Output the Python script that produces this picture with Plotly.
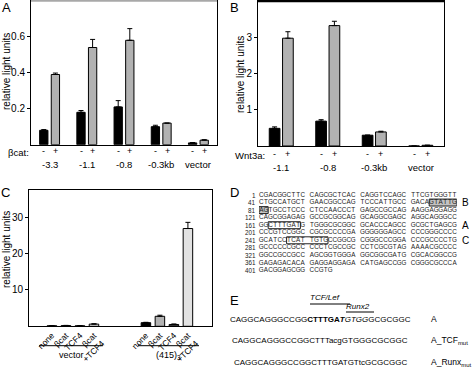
import plotly.graph_objects as go

W, H = 474, 379
def fx(p): return p / W
def fy(p): return 1 - p / H

SANS = "Liberation Sans, Arial, sans-serif"
BLACK = "#000000"
GRAY = "#b2b2b2"
DARK = "#3a3a3a"
LIGHT = "#e2e2e2"

# ---------------- Panel A data ----------------
a_groups = ["-3.3", "-1.1", "-0.8", "-0.3kb", "vector"]
a_minus = [0.08, 0.18, 0.21, 0.10, 0.01]
a_minus_err = [0.004, 0.01, 0.035, 0.008, 0.002]
a_plus = [0.39, 0.54, 0.58, 0.12, 0.025]
a_plus_err = [0.008, 0.045, 0.065, 0.0, 0.003]
a_yticks = [0.2, 0.4, 0.6]

# ---------------- Panel B data ----------------
b_groups = ["-1.1", "-0.8", "-0.3kb", "vector"]
b_minus = [0.49, 0.69, 0.30, 0.0]
b_minus_err = [0.04, 0.04, 0.0, 0.0]
b_plus = [2.99, 3.34, 0.39, 0.02]
b_plus_err = [0.18, 0.12, 0.02, 0.0]
b_yticks = [1, 2, 3]

# ---------------- Panel C data ----------------
c_treat = ["none", "βcat", "TCF4", "βcat+TCF4"]
c_ticktext = ["none", "βcat", "TCF4", "βcat<br>+TCF4"]
c_groups = ["vector", "(415)<sub>3</sub>"]
c_vector = [0.15, 0.2, 0.15, 0.6]
c_vector_err = [0.04, 0.05, 0.04, 0.1]
c_415 = [1.0, 2.75, 0.5, 26.9]
c_415_err = [0.1, 0.3, 0.15, 1.7]
c_yticks = [10, 20, 30]
c_colors = [BLACK, GRAY, DARK, LIGHT]

# ---------------- Panel D data ----------------
d_starts = [1, 41, 81, 121, 161, 201, 241, 281, 321, 361, 401]
d_seqs = [
    "CGACGGCTTC CAGCGCTCAC CAGGTCCAGC TTCGTGGGTT",
    "CTGCCATGCT GAACGGCCAG TCCCATTGCC GACAGTATTG",
    "AGTGCCTCCC CTCCAACCCT GAGCCGCCAG AAGGAGGAGG",
    "CAGCGGAGAG GCCGCGGCAG GCAGGCGAGC AGGCAGGGCC",
    "GGCTTTGATG TGGGCGCGGC GCACCCAGCC GCGCTGAGCG",
    "CCCGTCCGGC CGCGCCCCGA GGGGGGAGCC CCCGGGCCCC",
    "GCATCCTCAT TGTGCCGGCG CGGGCCCGGA CCCGCCCCTG",
    "GCCCCCCGCC CCCTCGCCGC CCTCGCGTAG AAAACGCCCC",
    "GGCCGCCGCC AGCGGTGGGA GGCGGCGATG CGCACGGCCG",
    "GAGAGACACA GAGGAGGAGA CATGAGCCGG CGGGCGCCCA",
    "GACGGAGCGG CCGTG",
]
# boxed sites: (line index, first char, last char, shaded)
d_boxes = [(1, 37, 42, True), (2, 0, 1, True), (4, 2, 8, False), (6, 6, 14, False)]
d_site_labels = [(1, "B"), (4, "A"), (6, "C")]

# ---------------- Panel E data ----------------
e_seqs = [
    "CAGGCAGGGCCGG<b>CTTTGA</b><b><i>T</i></b><i>GTGG</i>GCGCGGC",
    "CAGGCAGGGCCGGCTTTacgGTGGGCGCGGC",
    "CAGGCAGGGCCGGCTTTGATGTtcGCGCGGC",
]
e_names = ["A", "A_TCF<sub>mut</sub>", "A_Runx<sub>mut</sub>"]

fig = go.Figure()

def err(vals):
    return dict(type="data", symmetric=False, array=vals, arrayminus=[0] * len(vals),
                color=BLACK, thickness=1, width=2.5)

def bar_pair(groups, minus, minus_err, plus, plus_err, xa, ya, cat_px, bar_px, sep_px):
    w = bar_px / cat_px
    c = sep_px / 2 / cat_px
    fig.add_trace(go.Bar(x=groups, y=minus, error_y=err(minus_err), width=w, offset=-c - w / 2,
                         marker=dict(color=BLACK, line=dict(color=BLACK, width=1)),
                         xaxis=xa, yaxis=ya, showlegend=False))
    fig.add_trace(go.Bar(x=groups, y=plus, error_y=err(plus_err), width=w, offset=c - w / 2,
                         marker=dict(color=GRAY, line=dict(color=BLACK, width=1)),
                         xaxis=xa, yaxis=ya, showlegend=False))

A_X = (31, 217)
B_X = (258, 444)
A_SEP, B_SEP = 11.6, 13.3
bar_pair(a_groups, a_minus, a_minus_err, a_plus, a_plus_err, "x", "y",
         (A_X[1] - A_X[0]) / len(a_groups), 8.3, A_SEP)
bar_pair(b_groups, b_minus, b_minus_err, b_plus, b_plus_err, "x2", "y2",
         (B_X[1] - B_X[0]) / len(b_groups), 10.7, B_SEP)

# Panel C bars (numeric positions computed from indices)
c_base = [0.0, 6.71]
c_tickvals, c_ticklab = [], []
for gi, base in enumerate(c_base):
    for ti in range(len(c_treat)):
        c_tickvals.append(base + ti)
        c_ticklab.append(c_ticktext[ti])
for ti, name in enumerate(c_treat):
    xs = [c_base[0] + ti, c_base[1] + ti]
    ys = [c_vector[ti], c_415[ti]]
    es = [c_vector_err[ti], c_415_err[ti]]
    fig.add_trace(go.Bar(x=xs, y=ys, width=0.68, error_y=err(es), name=name,
                         marker=dict(color=c_colors[ti], line=dict(color=BLACK, width=1)),
                         xaxis="x3", yaxis="y3", showlegend=False))

# Panel D: each character placed on a fixed character grid (monospace layout)
d_x, d_y, d_t = [], [], []
for li, s in enumerate(d_seqs):
    for ci, ch in enumerate(s):
        if ch != " ":
            d_x.append(ci)
            d_y.append(li)
            d_t.append(ch)
fig.add_trace(go.Scatter(x=d_x, y=d_y, text=d_t, mode="text", textposition="middle center",
                         textfont=dict(family=SANS, size=6.3, color="#1a1a1a"), cliponaxis=False,
                         xaxis="x4", yaxis="y4", showlegend=False, hoverinfo="skip"))

axis_common = dict(showline=True, linecolor=BLACK, linewidth=1, mirror=True, showgrid=False, zeroline=False)
ytick_common = dict(ticks="outside", ticklen=3, tickcolor=BLACK, tickfont=dict(family=SANS, size=10, color=BLACK))

D_CW = 4.6
D_X0 = 259.0
D_Y0, D_DY = 195.0, 7.55
n_lines = len(d_seqs)

fig.update_layout(
    width=W, height=H, autosize=False,
    margin=dict(l=0, r=0, t=0, b=0),
    paper_bgcolor="white", plot_bgcolor="white",
    barmode="overlay", hovermode=False, dragmode=False,
    font=dict(family=SANS, color=BLACK),
    xaxis=dict(domain=[fx(A_X[0]), fx(A_X[1])], anchor="y", type="category", range=[-0.5, len(a_groups) - 0.5],
               showticklabels=False, ticks="", **axis_common),
    yaxis=dict(domain=[fy(144.7), 1], anchor="x", range=[0, 0.804], tickvals=a_yticks, **ytick_common, **axis_common),
    xaxis2=dict(domain=[fx(B_X[0]), fx(B_X[1])], anchor="y2", type="category", range=[-0.5, len(b_groups) - 0.5],
                showticklabels=False, ticks="", **axis_common),
    yaxis2=dict(domain=[fy(146), 1], anchor="x2", range=[0, 4.05], tickvals=b_yticks, **ytick_common, **axis_common),
    xaxis3=dict(domain=[fx(29), fx(212)], anchor="y3", range=[-1.64, 11.43], tickvals=c_tickvals, ticktext=c_ticklab,
                tickangle=-45, ticks="", tickfont=dict(family=SANS, size=8.5, color=BLACK), **axis_common),
    yaxis3=dict(domain=[fy(326.3), fy(190)], anchor="x3", range=[0, 37.5], tickvals=c_yticks, **ytick_common, **axis_common),
    xaxis4=dict(domain=[fx(D_X0), fx(D_X0 + 43 * D_CW)], anchor="y4", range=[-0.5, 42.5], visible=False),
    yaxis4=dict(domain=[fy(D_Y0 + (n_lines - 0.5) * D_DY), fy(D_Y0 - 0.5 * D_DY)], anchor="x4",
                range=[n_lines - 0.5, -0.5], visible=False),
)

ann = []
shapes = []

def text(x, y, t, size=10, xanchor="center", yanchor="middle", angle=0, color=BLACK, xref="paper", yref="paper", xshift=0):
    ann.append(dict(x=x, y=y, xref=xref, yref=yref, text=t, showarrow=False, xanchor=xanchor, yanchor=yanchor,
                    font=dict(family=SANS, size=size, color=color), textangle=angle, borderpad=0, borderwidth=0,
                    xshift=xshift))

# panel letters
text(fx(6), fy(8), "A", size=13)
text(fx(234), fy(8), "B", size=13)
text(fx(5), fy(192), "C", size=13)
text(fx(234), fy(192), "D", size=13)
text(fx(234), fy(300), "E", size=13)

# y titles
text(fx(6), fy(72), "relative light units", angle=-90)
text(fx(240), fy(75), "relative light units", angle=-90)
text(fx(6), fy(250), "relative light units", angle=-90)

# A category labels (x = category index on the category axis)
text(fx(29), fy(152), "βcat:", size=9.5, xanchor="right")
for i, g in enumerate(a_groups):
    text(i, fy(151.5), "-", size=9, xref="x", xshift=-A_SEP / 2)
    text(i, fy(151.5), "+", size=9, xref="x", xshift=A_SEP / 2)
    text(i, fy(164), g, size=9.5, xref="x")
# B category labels
text(fx(265), fy(155), "Wnt3a:", size=9.5, xanchor="right")
for i, g in enumerate(b_groups):
    text(i, fy(154.5), "-", size=9, xref="x2", xshift=-B_SEP / 2)
    text(i, fy(154.5), "+", size=9, xref="x2", xshift=B_SEP / 2)
    text(i, fy(167), g, size=9.5, xref="x2")
# C group labels and underlines
c_line_px = [(39, 103), (138, 199)]
for gi, (x0, x1) in enumerate(c_line_px):
    shapes.append(dict(type="line", xref="paper", yref="paper", x0=fx(x0), x1=fx(x1), y0=fy(345.7), y1=fy(345.7),
                       line=dict(color=BLACK, width=1)))
    text(fx((x0 + x1) / 2), fy(355), c_groups[gi], size=9)

# top border emphasis
shapes.append(dict(type="line", xref="paper", yref="paper", x0=fx(31), x1=fx(217), y0=fy(0.8), y1=fy(0.8),
                   line=dict(color="#a8a8a8", width=2)))
shapes.append(dict(type="line", xref="paper", yref="paper", x0=fx(258), x1=fx(444), y0=fy(1), y1=fy(1),
                   line=dict(color=BLACK, width=2.5)))

# Panel D line numbers, boxes and site labels
for li, n in enumerate(d_starts):
    text(fx(D_X0 - 3), fy(D_Y0 + li * D_DY), str(n), size=6.3, xanchor="right", color="#1a1a1a")
for (li, c0, c1, shaded) in d_boxes:
    shapes.append(dict(type="rect", xref="x4", yref="y4", x0=c0 - 0.5, x1=c1 + 0.5, y0=li - 0.46, y1=li + 0.46,
                       line=dict(color="#222222", width=1),
                       fillcolor="rgba(120,120,120,0.45)" if shaded else "rgba(0,0,0,0)", layer="below"))
for (li, lab) in d_site_labels:
    text(fx(465), fy(D_Y0 + li * D_DY), lab, size=10)

# Panel E
e_y = [319, 340, 362]
for i in range(3):
    text(fx(320), fy(e_y[i]), e_seqs[i], size=8)
    text(fx(431), fy(e_y[i]), e_names[i], size=8.5, xanchor="left")
text(fx(325), fy(297), "<i>TCF/Lef</i>", size=8)
shapes.append(dict(type="line", xref="paper", yref="paper", x0=fx(310), x1=fx(350), y0=fy(304), y1=fy(304),
                   line=dict(color=BLACK, width=1)))
text(fx(358), fy(306.5), "<i>Runx2</i>", size=8)
shapes.append(dict(type="line", xref="paper", yref="paper", x0=fx(346), x1=fx(374), y0=fy(312), y1=fy(312),
                   line=dict(color=BLACK, width=1)))

fig.update_layout(annotations=ann, shapes=shapes)
# remove the browser's default 8px page margin so the 474x379 figure fills the window; static, no modebar
fig.write_html("out.html", config={"displayModeBar": False, "staticPlot": True},
               post_script="document.body.style.margin='0px';document.body.style.overflow='hidden';")
